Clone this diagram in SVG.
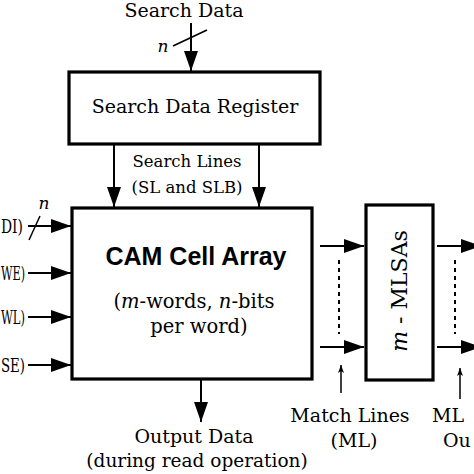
<svg xmlns="http://www.w3.org/2000/svg" width="474" height="474" viewBox="0 0 474 474">
<style>
.box{fill:#fff;stroke:#000;stroke-width:3.2}
.ln{stroke:#000;stroke-width:2;fill:none}
.thin{stroke:#000;stroke-width:1.5;fill:none}
.dash{stroke:#000;stroke-width:2;stroke-dasharray:4 4;fill:none}
.t{font-family:"DejaVu Serif","Liberation Serif",serif;fill:#000}
.b{font-family:"Liberation Sans",Arial,sans-serif;font-weight:bold;fill:#000}
</style>
<defs>
<marker id="ah" markerUnits="userSpaceOnUse" markerWidth="20" markerHeight="14" refX="20" refY="7" orient="auto"><path d="M0,0 L20,7 L0,14 z" fill="#000"/></marker>
<marker id="sa" markerUnits="userSpaceOnUse" markerWidth="8" markerHeight="6" refX="8" refY="3" orient="auto"><path d="M0,0 L8,3 L0,6 L2,3 z" fill="#000"/></marker>
</defs>
<rect width="474" height="474" fill="#fff"/>

<g id="connectors">
<line class="ln" x1="191" y1="23" x2="191" y2="71" marker-end="url(#ah)"/>
<line class="thin" x1="173" y1="46" x2="207" y2="30"/>
<line class="ln" x1="114" y1="144" x2="114" y2="207" marker-end="url(#ah)"/>
<line class="ln" x1="259" y1="144" x2="259" y2="207" marker-end="url(#ah)"/>
<line class="ln" x1="28" y1="226" x2="71" y2="226" marker-end="url(#ah)"/>
<line class="thin" x1="29" y1="240" x2="40" y2="216"/>
<line class="ln" x1="28" y1="273" x2="71" y2="273" marker-end="url(#ah)"/>
<line class="ln" x1="28" y1="317" x2="71" y2="317" marker-end="url(#ah)"/>
<line class="ln" x1="28" y1="365" x2="71" y2="365" marker-end="url(#ah)"/>
<line class="ln" x1="201" y1="380" x2="201" y2="422" marker-end="url(#ah)"/>
<line class="ln" x1="320" y1="246" x2="364" y2="246" marker-end="url(#ah)"/>
<line class="ln" x1="320" y1="347" x2="364" y2="347" marker-end="url(#ah)"/>
<line class="dash" x1="339" y1="260" x2="339" y2="334"/>
<line class="ln" x1="437" y1="246" x2="481" y2="246" marker-end="url(#ah)"/>
<line class="ln" x1="437" y1="347" x2="481" y2="347" marker-end="url(#ah)"/>
<line class="dash" x1="455" y1="260" x2="455" y2="334"/>
<line class="thin" x1="341" y1="393" x2="341" y2="365" marker-end="url(#sa)"/>
<line class="thin" x1="460" y1="399" x2="460" y2="368" marker-end="url(#sa)"/>
</g>

<g id="search-data-label">
<text class="t" x="184" y="17" font-size="19" text-anchor="middle">Search Data</text>
<text class="t" x="163" y="52" font-size="17" font-style="italic" text-anchor="middle">n</text>
</g>

<g id="search-data-register">
<rect class="box" x="69" y="72" width="251" height="72"/>
<text class="t" x="195" y="113" font-size="19" text-anchor="middle">Search Data Register</text>
</g>

<g id="search-lines-label">
<text class="t" x="187" y="167" font-size="16.5" text-anchor="middle">Search Lines</text>
<text class="t" x="187" y="193" font-size="16.5" text-anchor="middle">(SL and SLB)</text>
</g>

<g id="cam-cell-array">
<rect class="box" x="72" y="208" width="240" height="171"/>
<text class="b" x="196" y="265" font-size="25" text-anchor="middle">CAM Cell Array</text>
<text class="t" x="194" y="308" font-size="19.5" text-anchor="middle">(<tspan font-style="italic">m</tspan>-words, <tspan font-style="italic">n</tspan>-bits</text>
<text class="t" x="199" y="333" font-size="19.5" text-anchor="middle">per word)</text>
</g>

<g id="left-inputs">
<text class="t" x="44" y="209" font-size="17" font-style="italic" text-anchor="middle">n</text>
<text class="t" x="1" y="233" font-size="18" textLength="22" lengthAdjust="spacingAndGlyphs">DI)</text>
<text class="t" x="1" y="280" font-size="18" textLength="24" lengthAdjust="spacingAndGlyphs">WE)</text>
<text class="t" x="1" y="324" font-size="18" textLength="24" lengthAdjust="spacingAndGlyphs">WL)</text>
<text class="t" x="1" y="372" font-size="18" textLength="24" lengthAdjust="spacingAndGlyphs">SE)</text>
</g>

<g id="mlsas">
<rect class="box" x="366" y="205" width="67" height="175"/>
<text class="t" transform="translate(407,291) rotate(-90)" font-size="22" text-anchor="middle"><tspan font-style="italic">m</tspan> - MLSAs</text>
</g>

<g id="output-data-label">
<text class="t" x="194" y="443" font-size="19" text-anchor="middle">Output Data</text>
<text class="t" x="197" y="467" font-size="18.5" text-anchor="middle">(during read operation)</text>
</g>

<g id="match-lines-label">
<text class="t" x="350" y="422" font-size="19" text-anchor="middle">Match Lines</text>
<text class="t" x="354" y="447" font-size="19" text-anchor="middle">(ML)</text>
</g>

<g id="ml-outputs-label">
<text class="t" x="432" y="422" font-size="19">ML</text>
<text class="t" x="443" y="447" font-size="19">Ou</text>
</g>
</svg>
